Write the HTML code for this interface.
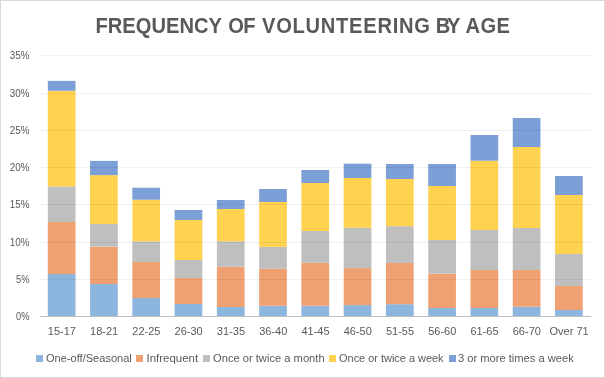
<!DOCTYPE html>
<html><head><meta charset="utf-8"><style>
html,body{margin:0;padding:0;background:#fff;}
svg{display:block;will-change:transform;}
text{font-family:"Liberation Sans",sans-serif;fill:#595959;}
.ax{font-size:11px;}
.lg{font-size:11px;}
.ti{font-size:21.2px;font-weight:bold;}
</style></head><body>
<svg width="605" height="378" viewBox="0 0 605 378">
<rect x="0.5" y="0.5" width="604" height="377" fill="#ffffff" stroke="#d9d9d9" stroke-width="1"/>
<rect x="47.80" y="274.00" width="27.70" height="42.00" fill="#8db6df"/>
<rect x="47.80" y="222.00" width="27.70" height="52.00" fill="#f0a172"/>
<rect x="47.80" y="186.40" width="27.70" height="35.60" fill="#bfbfbf"/>
<rect x="47.80" y="90.80" width="27.70" height="95.60" fill="#ffd24f"/>
<rect x="47.80" y="80.90" width="27.70" height="9.90" fill="#7b9fd6"/>
<rect x="90.07" y="284.00" width="27.70" height="32.00" fill="#8db6df"/>
<rect x="90.07" y="246.70" width="27.70" height="37.30" fill="#f0a172"/>
<rect x="90.07" y="224.00" width="27.70" height="22.70" fill="#bfbfbf"/>
<rect x="90.07" y="175.10" width="27.70" height="48.90" fill="#ffd24f"/>
<rect x="90.07" y="160.90" width="27.70" height="14.20" fill="#7b9fd6"/>
<rect x="132.34" y="298.00" width="27.70" height="18.00" fill="#8db6df"/>
<rect x="132.34" y="262.00" width="27.70" height="36.00" fill="#f0a172"/>
<rect x="132.34" y="241.30" width="27.70" height="20.70" fill="#bfbfbf"/>
<rect x="132.34" y="199.70" width="27.70" height="41.60" fill="#ffd24f"/>
<rect x="132.34" y="187.70" width="27.70" height="12.00" fill="#7b9fd6"/>
<rect x="174.61" y="304.00" width="27.70" height="12.00" fill="#8db6df"/>
<rect x="174.61" y="278.00" width="27.70" height="26.00" fill="#f0a172"/>
<rect x="174.61" y="260.00" width="27.70" height="18.00" fill="#bfbfbf"/>
<rect x="174.61" y="220.00" width="27.70" height="40.00" fill="#ffd24f"/>
<rect x="174.61" y="210.00" width="27.70" height="10.00" fill="#7b9fd6"/>
<rect x="216.88" y="307.00" width="27.70" height="9.00" fill="#8db6df"/>
<rect x="216.88" y="266.70" width="27.70" height="40.30" fill="#f0a172"/>
<rect x="216.88" y="241.30" width="27.70" height="25.40" fill="#bfbfbf"/>
<rect x="216.88" y="209.00" width="27.70" height="32.30" fill="#ffd24f"/>
<rect x="216.88" y="200.00" width="27.70" height="9.00" fill="#7b9fd6"/>
<rect x="259.15" y="305.80" width="27.70" height="10.20" fill="#8db6df"/>
<rect x="259.15" y="268.80" width="27.70" height="37.00" fill="#f0a172"/>
<rect x="259.15" y="246.90" width="27.70" height="21.90" fill="#bfbfbf"/>
<rect x="259.15" y="202.00" width="27.70" height="44.90" fill="#ffd24f"/>
<rect x="259.15" y="189.00" width="27.70" height="13.00" fill="#7b9fd6"/>
<rect x="301.42" y="305.80" width="27.70" height="10.20" fill="#8db6df"/>
<rect x="301.42" y="262.80" width="27.70" height="43.00" fill="#f0a172"/>
<rect x="301.42" y="231.00" width="27.70" height="31.80" fill="#bfbfbf"/>
<rect x="301.42" y="183.00" width="27.70" height="48.00" fill="#ffd24f"/>
<rect x="301.42" y="170.00" width="27.70" height="13.00" fill="#7b9fd6"/>
<rect x="343.69" y="305.10" width="27.70" height="10.90" fill="#8db6df"/>
<rect x="343.69" y="268.10" width="27.70" height="37.00" fill="#f0a172"/>
<rect x="343.69" y="227.80" width="27.70" height="40.30" fill="#bfbfbf"/>
<rect x="343.69" y="178.00" width="27.70" height="49.80" fill="#ffd24f"/>
<rect x="343.69" y="163.70" width="27.70" height="14.30" fill="#7b9fd6"/>
<rect x="385.96" y="304.20" width="27.70" height="11.80" fill="#8db6df"/>
<rect x="385.96" y="263.00" width="27.70" height="41.20" fill="#f0a172"/>
<rect x="385.96" y="226.20" width="27.70" height="36.80" fill="#bfbfbf"/>
<rect x="385.96" y="179.00" width="27.70" height="47.20" fill="#ffd24f"/>
<rect x="385.96" y="164.00" width="27.70" height="15.00" fill="#7b9fd6"/>
<rect x="428.23" y="308.00" width="27.70" height="8.00" fill="#8db6df"/>
<rect x="428.23" y="273.70" width="27.70" height="34.30" fill="#f0a172"/>
<rect x="428.23" y="240.00" width="27.70" height="33.70" fill="#bfbfbf"/>
<rect x="428.23" y="186.00" width="27.70" height="54.00" fill="#ffd24f"/>
<rect x="428.23" y="164.00" width="27.70" height="22.00" fill="#7b9fd6"/>
<rect x="470.50" y="308.00" width="27.70" height="8.00" fill="#8db6df"/>
<rect x="470.50" y="270.00" width="27.70" height="38.00" fill="#f0a172"/>
<rect x="470.50" y="230.00" width="27.70" height="40.00" fill="#bfbfbf"/>
<rect x="470.50" y="160.70" width="27.70" height="69.30" fill="#ffd24f"/>
<rect x="470.50" y="135.00" width="27.70" height="25.70" fill="#7b9fd6"/>
<rect x="512.77" y="306.70" width="27.70" height="9.30" fill="#8db6df"/>
<rect x="512.77" y="270.00" width="27.70" height="36.70" fill="#f0a172"/>
<rect x="512.77" y="228.00" width="27.70" height="42.00" fill="#bfbfbf"/>
<rect x="512.77" y="147.00" width="27.70" height="81.00" fill="#ffd24f"/>
<rect x="512.77" y="118.00" width="27.70" height="29.00" fill="#7b9fd6"/>
<rect x="555.04" y="310.00" width="27.70" height="6.00" fill="#8db6df"/>
<rect x="555.04" y="286.00" width="27.70" height="24.00" fill="#f0a172"/>
<rect x="555.04" y="254.00" width="27.70" height="32.00" fill="#bfbfbf"/>
<rect x="555.04" y="195.00" width="27.70" height="59.00" fill="#ffd24f"/>
<rect x="555.04" y="176.00" width="27.70" height="19.00" fill="#7b9fd6"/>
<rect x="40" y="55" width="551" height="1" fill="#000" fill-opacity="0.06"/>
<rect x="40" y="93" width="551" height="1" fill="#000" fill-opacity="0.06"/>
<rect x="40" y="130" width="551" height="1" fill="#000" fill-opacity="0.06"/>
<rect x="40" y="167" width="551" height="1" fill="#000" fill-opacity="0.06"/>
<rect x="40" y="204" width="551" height="1" fill="#000" fill-opacity="0.06"/>
<rect x="40" y="242" width="551" height="1" fill="#000" fill-opacity="0.06"/>
<rect x="40" y="279" width="551" height="1" fill="#000" fill-opacity="0.06"/>
<rect x="40" y="316" width="551" height="1" fill="#bfbfbf"/>
<text x="9.8" y="59.2" class="ax" textLength="19.7" lengthAdjust="spacingAndGlyphs">35%</text>
<text x="9.8" y="97.2" class="ax" textLength="19.7" lengthAdjust="spacingAndGlyphs">30%</text>
<text x="9.8" y="134.2" class="ax" textLength="19.7" lengthAdjust="spacingAndGlyphs">25%</text>
<text x="9.8" y="171.2" class="ax" textLength="19.7" lengthAdjust="spacingAndGlyphs">20%</text>
<text x="9.8" y="208.2" class="ax" textLength="19.7" lengthAdjust="spacingAndGlyphs">15%</text>
<text x="9.8" y="246.2" class="ax" textLength="19.7" lengthAdjust="spacingAndGlyphs">10%</text>
<text x="16.1" y="283.2" class="ax" textLength="13.4" lengthAdjust="spacingAndGlyphs">5%</text>
<text x="16.1" y="320.2" class="ax" textLength="13.4" lengthAdjust="spacingAndGlyphs">0%</text>
<text x="61.85" y="334.7" text-anchor="middle" class="ax">15-17</text>
<text x="104.12" y="334.7" text-anchor="middle" class="ax">18-21</text>
<text x="146.39" y="334.7" text-anchor="middle" class="ax">22-25</text>
<text x="188.66" y="334.7" text-anchor="middle" class="ax">26-30</text>
<text x="230.93" y="334.7" text-anchor="middle" class="ax">31-35</text>
<text x="273.20" y="334.7" text-anchor="middle" class="ax">36-40</text>
<text x="315.47" y="334.7" text-anchor="middle" class="ax">41-45</text>
<text x="357.74" y="334.7" text-anchor="middle" class="ax">46-50</text>
<text x="400.01" y="334.7" text-anchor="middle" class="ax">51-55</text>
<text x="442.28" y="334.7" text-anchor="middle" class="ax">56-60</text>
<text x="484.55" y="334.7" text-anchor="middle" class="ax">61-65</text>
<text x="526.82" y="334.7" text-anchor="middle" class="ax">66-70</text>
<text x="569.09" y="334.7" text-anchor="middle" class="ax">Over 71</text>
<text transform="translate(95.50,32.6) scale(0.95,1)" x="0" y="0" class="ti" textLength="133.1" lengthAdjust="spacing">FREQUENCY</text>
<text transform="translate(228.20,32.6) scale(0.95,1)" x="0" y="0" class="ti" textLength="28.9" lengthAdjust="spacing">OF</text>
<text transform="translate(262.10,32.6) scale(0.95,1)" x="0" y="0" class="ti" textLength="176.6" lengthAdjust="spacing">VOLUNTEERING</text>
<text transform="translate(435.70,32.6) scale(0.95,1)" x="0" y="0" class="ti" textLength="26.1" lengthAdjust="spacing">BY</text>
<text transform="translate(465.50,32.6) scale(0.95,1)" x="0" y="0" class="ti" textLength="46.8" lengthAdjust="spacing">AGE</text>
<rect x="36" y="355" width="7" height="7" fill="#8db6df"/>
<text x="46.0" y="361.6" class="lg" textLength="85.8" lengthAdjust="spacingAndGlyphs">One-off/Seasonal</text>
<rect x="136" y="355" width="7" height="7" fill="#f0a172"/>
<text x="146.5" y="361.6" class="lg" textLength="51.7" lengthAdjust="spacingAndGlyphs">Infrequent</text>
<rect x="203" y="355" width="7" height="7" fill="#bfbfbf"/>
<text x="213.0" y="361.6" class="lg" textLength="111.6" lengthAdjust="spacingAndGlyphs">Once or twice a month</text>
<rect x="329" y="355" width="7" height="7" fill="#ffd24f"/>
<text x="339.1" y="361.6" class="lg" textLength="104.4" lengthAdjust="spacingAndGlyphs">Once or twice a week</text>
<rect x="449" y="355" width="7" height="7" fill="#7b9fd6"/>
<text x="457.9" y="361.6" class="lg" textLength="115.9" lengthAdjust="spacingAndGlyphs">3 or more times a week</text>
</svg>
</body></html>
